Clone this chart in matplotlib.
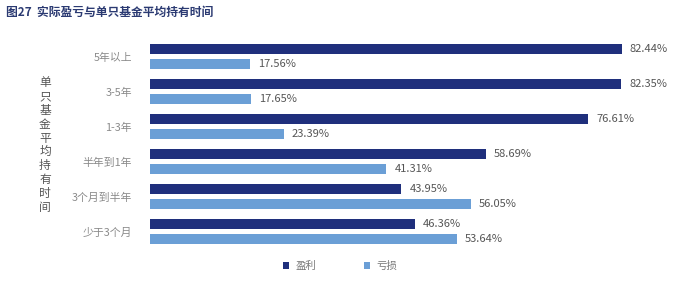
import numpy as np
import matplotlib
matplotlib.use("Agg")
import matplotlib.pyplot as plt

plt.rcParams['font.family'] = ['Noto Sans CJK SC', 'DejaVu Sans']

# Data
categories = ["5年以上", "3-5年", "1-3年", "半年到1年", "3个月到半年", "少于3个月"]
profit = [82.44, 82.35, 76.61, 58.69, 43.95, 46.36]
loss = [17.56, 17.65, 23.39, 41.31, 56.05, 53.64]
series_names = ["盈利", "亏损"]

dark = "#1f2f7c"
light = "#6b9fd6"

fig = plt.figure(figsize=(6.74, 2.85), dpi=100)
ax = fig.add_axes([150 / 674, 1 - 249 / 285, 515 / 674, 210 / 285])

y = np.arange(len(categories))
off = 0.215
h = 0.26
b1 = ax.barh(y - off, profit, height=h, color=dark, label=series_names[0])
b2 = ax.barh(y + off, loss, height=h, color=light, label=series_names[1])

for bars, vals in [(b1, profit), (b2, loss)]:
    for bar, v in zip(bars, vals):
        ax.text(bar.get_width() + 1.4, bar.get_y() + bar.get_height() / 2,
                f"{v:.2f}%", va="center", ha="left", fontsize=8, color="#555555")

ax.set_xlim(0, 90)
ax.set_ylim(len(categories) - 0.5, -0.5)
ax.set_yticks(y)
ax.set_yticklabels(categories, fontsize=7.8, color="#8a8a8a")
ax.tick_params(axis="y", length=0, pad=13)
ax.set_xticks([])
for s in ax.spines.values():
    s.set_visible(False)

# vertical stacked y label
fig.text(45 / 674, 1 - 145 / 285, "\n".join("单只基金平均持有时间"),
         ha="center", va="center", fontsize=8.5, color="#555555", linespacing=1.08)

# title
fig.text(6 / 674, 1 - 12 / 285, "图27  实际盈亏与单只基金平均持有时间",
         ha="left", va="center", fontsize=8.5, fontweight="bold", color="#2b3a72")

# legend
fig.legend(handles=[b1, b2], labels=series_names, loc="center",
           bbox_to_anchor=(340 / 674, 1 - 266 / 285), ncol=2, frameon=False,
           fontsize=7.5, handlelength=0.6, handleheight=0.6, columnspacing=4.6,
           handletextpad=0.6, labelcolor="#777777")

fig.savefig("out.png", dpi=100, facecolor="white")
